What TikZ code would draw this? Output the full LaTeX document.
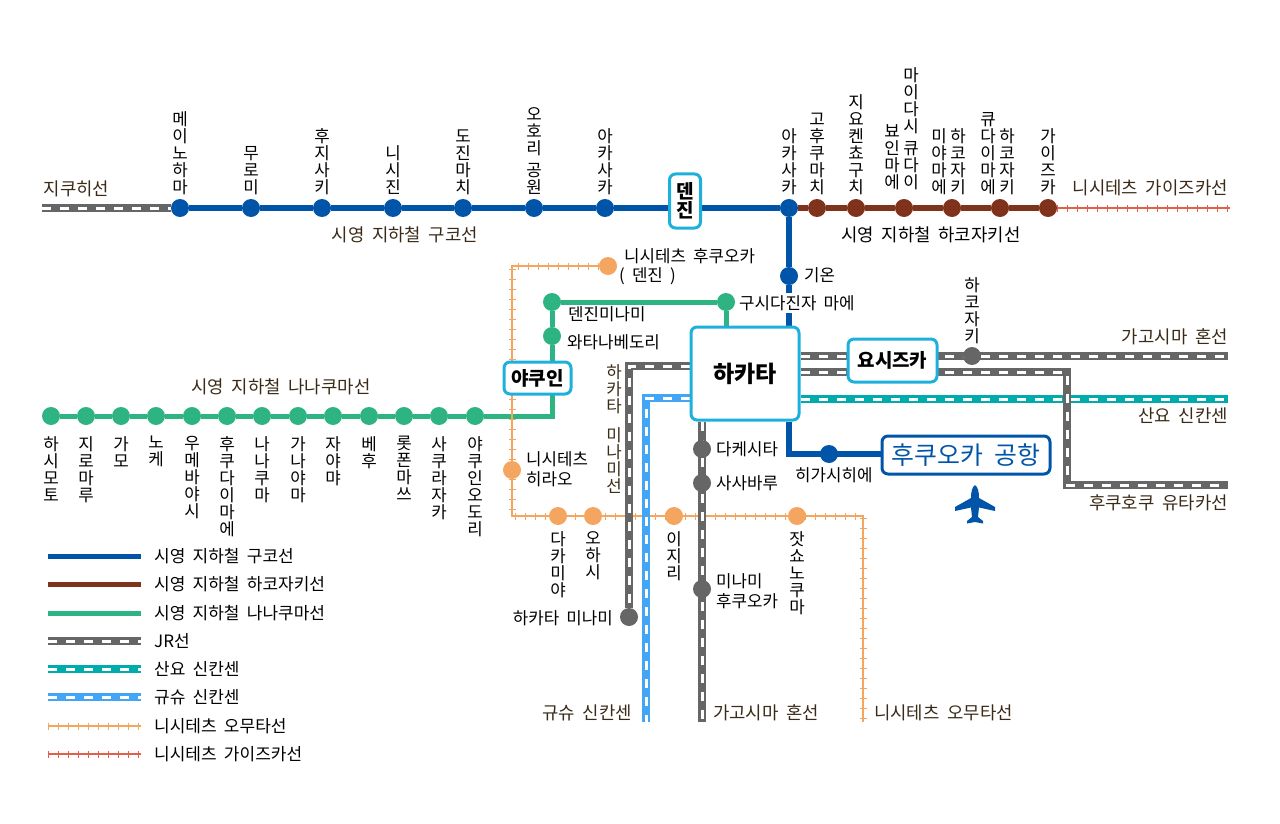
\documentclass[tikz,border=0pt]{standalone}
\usepackage{fontspec}
\setmainfont[WordSpace=1.9]{Noto Sans CJK KR}
\usetikzlibrary{backgrounds}

\definecolor{kukoblue}{HTML}{0055A8}
\definecolor{hakobrown}{HTML}{7F331C}
\definecolor{nanagreen}{HTML}{2DB482}
\definecolor{jrgray}{HTML}{666666}
\definecolor{sanyoteal}{HTML}{00ABAB}
\definecolor{kyushublue}{HTML}{42A5F5}
\definecolor{omutaorange}{HTML}{F4A660}
\definecolor{kaizukared}{HTML}{E0604C}
\definecolor{hubcyan}{HTML}{1EB0DC}
\definecolor{labbrown}{HTML}{3A2A18}

\tikzset{
  stop/.style={circle,inner sep=0pt,minimum size=18pt},
  uplab/.style={anchor=south,align=center,inner sep=0pt,font=\fontsize{16.8}{17}\selectfont},
  downlab/.style={anchor=north,align=center,inner sep=0pt,font=\fontsize{16.8}{17}\selectfont},
  sidelab/.style={anchor=west,align=left,inner sep=0pt,font=\fontsize{16.8}{19.5}\selectfont},
  linelab/.style={inner sep=0pt,text=labbrown,font=\fontsize{17.8}{19}\selectfont},
  keylab/.style={anchor=west,inner sep=0pt,font=\fontsize{17}{19}\selectfont},
  hub/.style={draw=hubcyan,fill=white,line width=3pt,rounded corners=6pt,inner sep=0pt,align=center,font=\fontsize{19}{19}\selectfont\bfseries},
  kuko/.style={draw=kukoblue,line width=5.5pt},
  hako/.style={draw=hakobrown,line width=5.5pt},
  nana/.style={draw=nanagreen,line width=5pt},
  rail/.style={draw=#1,line width=7.5pt,postaction={draw=white,line width=3pt,dash pattern=on 9pt off 9pt}},
  tick/.style={draw=#1,line width=2pt,preaction={draw=#1,line width=7pt,dash pattern=on 1pt off 9pt}}
}

\begin{document}
\begin{tikzpicture}[x=1pt,y=-1pt]
  \useasboundingbox (0,0) rectangle (1280,824);

  \node[stop,fill=kukoblue] (meinohama) at (180,208) {};
  \node[stop,fill=kukoblue] (muromi) at (251,208) {};
  \node[stop,fill=kukoblue] (fujisaki) at (322,208) {};
  \node[stop,fill=kukoblue] (nishijin) at (393,208) {};
  \node[stop,fill=kukoblue] (tojinmachi) at (463,208) {};
  \node[stop,fill=kukoblue] (ohori) at (534,208) {};
  \node[stop,fill=kukoblue] (akasaka) at (605,208) {};
  \node[hub,minimum width=31pt,minimum height=54pt] (tenjin) at (685,201) {덴\\진};
  \node[stop,fill=kukoblue] (nakasu) at (789,208) {};
  \node[stop,fill=hakobrown] (gofuku) at (817,208) {};
  \node[stop,fill=hakobrown] (chiyo) at (856,208) {};
  \node[stop,fill=hakobrown] (maidashi) at (904,208) {};
  \node[stop,fill=hakobrown] (miyamae) at (952,208) {};
  \node[stop,fill=hakobrown] (kyudai) at (1000,208) {};
  \node[stop,fill=hakobrown] (kaizuka) at (1048,208) {};
  \coordinate (chikuhi-w) at (42,208);
  \coordinate (kaizuka-e) at (1230,208);

  \node[uplab] (meinohama-l) at (180,195) {메\\이\\노\\하\\마};
  \node[uplab] (muromi-l) at (251,195) {무\\로\\미};
  \node[uplab] (fujisaki-l) at (322,195) {후\\지\\사\\키};
  \node[uplab] (nishijin-l) at (393,195) {니\\시\\진};
  \node[uplab] (tojinmachi-l) at (463,195) {도\\진\\마\\치};
  \node[uplab] (ohori-l) at (534,195) {오\\호\\리\\[5pt]공\\원};
  \node[uplab] (akasaka-l) at (605,195) {아\\카\\사\\카};
  \node[uplab] (nakasu-l) at (789,195) {아\\카\\사\\카};
  \node[uplab] (gofuku-l) at (817,195) {고\\후\\쿠\\마\\치};
  \node[uplab] (chiyo-l) at (856,195) {지\\요\\켄\\쵸\\구\\치};
  \node[uplab] (byoin-l) at (892,190) {뵤\\인\\마\\에};
  \node[uplab] (maidashi-l) at (911,190) {마\\이\\다\\시\\[5pt]큐\\다\\이};
  \node[uplab] (miyamae-l) at (939,195) {미\\야\\마\\에};
  \node[uplab] (hako1-l) at (958,195) {하\\코\\자\\키};
  \node[uplab] (kyudai-l) at (988,195) {큐\\다\\이\\마\\에};
  \node[uplab] (hako2-l) at (1007,195) {하\\코\\자\\키};
  \node[uplab] (kaizuka-l) at (1048,195) {가\\이\\즈\\카};

  \node[linelab] (chikuhi-n) at (76.5,189) {지쿠히선};
  \node[linelab] (kuko-n) at (405,235) {시영 지하철 구코선};
  \node[linelab,text=black] (hako-n) at (931,235) {시영 지하철 하코자키선};
  \node[linelab,anchor=east] (kaizuka-n) at (1228,188) {니시테츠 가이즈카선};

  \node[stop,fill=kukoblue] (gion) at (789,276) {};
  \node[sidelab] (gion-l) at (804,275) {기온};
  \node[stop,fill=omutaorange] (fukuoka) at (608,266) {};
  \node[sidelab] (fukuoka-l) at (619,266.5) {\hspace{5pt}니시테츠 후쿠오카\\( 덴진 )};
  \node[stop,fill=nanagreen] (tenjinminami) at (552,302) {};
  \node[stop,fill=nanagreen] (kushida) at (726,302) {};
  \node[stop,fill=nanagreen] (watanabe) at (552,336) {};
  \node[sidelab] (tenjinminami-l) at (568,314) {덴진미나미};
  \node[sidelab] (watanabe-l) at (567,342) {와타나베도리};
  \node[sidelab,fill=white,inner ysep=2pt] (kushida-l) at (739,303) {구시다진자 마에};

  \node[hub,minimum width=108pt,minimum height=93pt,font=\fontsize{23}{24}\selectfont\bfseries] (hakata) at (745,373.5) {하카타};
  \node[hub,minimum width=67pt,minimum height=32pt] (yakuin) at (537.5,378) {야쿠인};
  \node[hub,minimum width=89pt,minimum height=43pt] (yoshizuka) at (892.5,360.5) {요시즈카};
  \node[hub,draw=kukoblue,text=kukoblue,minimum width=168pt,minimum height=38pt,font=\fontsize{24.9}{25}\selectfont] (airport) at (966,455) {후쿠오카 공항};

  \node[stop,fill=jrgray] (hakozaki) at (972,356) {};
  \node[uplab] (hakozaki-l) at (972,344) {하\\코\\자\\키};
  \node[linelab,anchor=east] (honsen-n) at (1228,337) {가고시마 혼선};
  \node[linelab,anchor=east] (sanyo-n) at (1228,416) {산요 신칸센};
  \node[linelab,anchor=east] (yutaka-n) at (1228,503) {후쿠호쿠 유타카선};
  \coordinate (honsen-e) at (1228,356);
  \coordinate (sanyo-e) at (1228,399);
  \coordinate (yutaka-a) at (1067,372);
  \coordinate (yutaka-b) at (1067,485);
  \coordinate (yutaka-e) at (1228,485);

  \node[stop,fill=kukoblue] (higashihie) at (829,454) {};
  \node[sidelab] (higashihie-l) at (795,475) {히가시히에};
  \coordinate (kuko-turn) at (789,454);

  \node[stop,fill=nanagreen] (hashimoto) at (51,416) {};
  \node[stop,fill=nanagreen] (jiromaru) at (86,416) {};
  \node[stop,fill=nanagreen] (kamo) at (121,416) {};
  \node[stop,fill=nanagreen] (noke) at (156,416) {};
  \node[stop,fill=nanagreen] (umebayashi) at (192,416) {};
  \node[stop,fill=nanagreen] (fukudai) at (227,416) {};
  \node[stop,fill=nanagreen] (nanakuma) at (262,416) {};
  \node[stop,fill=nanagreen] (kanayama) at (298,416) {};
  \node[stop,fill=nanagreen] (chayama) at (333,416) {};
  \node[stop,fill=nanagreen] (befu) at (369,416) {};
  \node[stop,fill=nanagreen] (ropponmatsu) at (404,416) {};
  \node[stop,fill=nanagreen] (sakurazaka) at (439,416) {};
  \node[stop,fill=nanagreen] (yakuinodori) at (475,416) {};
  \coordinate (nana-turn) at (552,416);

  \node[downlab] (hashimoto-l) at (51,436) {하\\시\\모\\토};
  \node[downlab] (jiromaru-l) at (86,436) {지\\로\\마\\루};
  \node[downlab] (kamo-l) at (121,436) {가\\모};
  \node[downlab] (noke-l) at (156,436) {노\\케};
  \node[downlab] (umebayashi-l) at (192,436) {우\\메\\바\\야\\시};
  \node[downlab] (fukudai-l) at (227,436) {후\\쿠\\다\\이\\마\\에};
  \node[downlab] (nanakuma-l) at (262,436) {나\\나\\쿠\\마};
  \node[downlab] (kanayama-l) at (298,436) {가\\나\\야\\마};
  \node[downlab] (chayama-l) at (333,436) {자\\야\\먀};
  \node[downlab] (befu-l) at (369,436) {베\\후};
  \node[downlab] (ropponmatsu-l) at (404,436) {롯\\폰\\마\\쓰};
  \node[downlab] (sakurazaka-l) at (439,436) {사\\쿠\\라\\자\\카};
  \node[downlab] (yakuinodori-l) at (475,436) {야\\쿠\\인\\오\\도\\리};
  \node[linelab] (nana-n) at (281,387) {시영 지하철 나나쿠마선};

  \node[stop,fill=omutaorange] (hirao) at (512,470) {};
  \node[sidelab] (hirao-l) at (526,469) {니시테츠\\히라오};
  \node[stop,fill=omutaorange] (takamiya) at (558,516) {};
  \node[stop,fill=omutaorange] (ohashi) at (593,516) {};
  \node[stop,fill=omutaorange] (ijiri) at (674,516) {};
  \node[stop,fill=omutaorange] (zasshonokuma) at (797,516) {};
  \node[downlab] (takamiya-l) at (558,531) {다\\카\\미\\야};
  \node[downlab] (ohashi-l) at (593,531) {오\\하\\시};
  \node[downlab] (ijiri-l) at (674,531) {이\\지\\리};
  \node[downlab] (zasshonokuma-l) at (797,531) {잣\\쇼\\노\\쿠\\마};
  \coordinate (omuta-a) at (512,266);
  \coordinate (omuta-b) at (512,516);
  \coordinate (omuta-c) at (863,516);
  \coordinate (omuta-d) at (863,722);

  \node[stop,fill=jrgray] (takeshita) at (702,449) {};
  \node[stop,fill=jrgray] (sasabaru) at (702,483) {};
  \node[stop,fill=jrgray] (minamifuk) at (702,589) {};
  \node[stop,fill=jrgray] (hakataminami) at (629,617) {};
  \node[sidelab] (takeshita-l) at (716,449) {다케시타};
  \node[sidelab] (sasabaru-l) at (716,483) {사사바루};
  \node[sidelab] (minamifuk-l) at (716,591) {미나미\\후쿠오카};
  \node[sidelab,anchor=east] (hakataminami-l) at (613,618) {하카타 미나미};
  \node[linelab,align=center,font=\fontsize{16.8}{17}\selectfont] (minamisen-n) at (614,429.5) {하\\카\\타\\[12pt]미\\나\\미\\선};
  \coordinate (minamisen-t) at (629,366);
  \coordinate (kyushu-t) at (646,398);
  \coordinate (kyushu-b) at (646,722);
  \coordinate (honsen-b) at (702,722);
  \node[linelab,anchor=east] (kyushu-n) at (632,713) {규슈 신칸센};
  \node[linelab,anchor=west] (honsen2-n) at (713,713) {가고시마 혼선};
  \node[linelab,anchor=west] (omuta-n) at (874,713) {니시테츠 오무타선};

  \fill[kukoblue] (975,485) .. controls (978,487) and (979,492) .. (979,498) -- (995,507) -- (995,511) -- (979,507.5) -- (978,517) -- (983,521) -- (983,523.5) -- (975,522) -- (967,523.5) -- (967,521) -- (972,517) -- (971,507.5) -- (955,511) -- (955,507) -- (971,498) .. controls (971,492) and (972,487) .. (975,485) -- cycle;

  \coordinate (key1-a) at (48,556);
  \coordinate (key1-b) at (141,556);
  \coordinate (key2-a) at (48,584);
  \coordinate (key2-b) at (141,584);
  \coordinate (key3-a) at (48,613);
  \coordinate (key3-b) at (141,613);
  \coordinate (key4-a) at (48,641);
  \coordinate (key4-b) at (141,641);
  \coordinate (key5-a) at (48,669);
  \coordinate (key5-b) at (141,669);
  \coordinate (key6-a) at (48,697);
  \coordinate (key6-b) at (141,697);
  \coordinate (key7-a) at (48,726);
  \coordinate (key7-b) at (141,726);
  \coordinate (key8-a) at (48,754);
  \coordinate (key8-b) at (141,754);
  \node[keylab] (key1-l) at (154,556) {시영 지하철 구코선};
  \node[keylab] (key2-l) at (154,584) {시영 지하철 하코자키선};
  \node[keylab] (key3-l) at (154,613) {시영 지하철 나나쿠마선};
  \node[keylab] (key4-l) at (154,641) {JR선};
  \node[keylab] (key5-l) at (154,669) {산요 신칸센};
  \node[keylab] (key6-l) at (154,697) {규슈 신칸센};
  \node[keylab] (key7-l) at (154,726) {니시테츠 오무타선};
  \node[keylab] (key8-l) at (154,754) {니시테츠 가이즈카선};

  \begin{scope}[on background layer]
    \draw[nana] (hashimoto) -- (jiromaru) -- (kamo) -- (noke) -- (umebayashi) -- (fukudai) -- (nanakuma) -- (kanayama) -- (chayama) -- (befu) -- (ropponmatsu) -- (sakurazaka) -- (yakuinodori) -- (nana-turn) -- (watanabe) -- (tenjinminami) -- (kushida) -- (hakata.north -| kushida);

    \draw[tick=omutaorange] (fukuoka) -- (omuta-a) -- (omuta-b) -- (omuta-c) -- (omuta-d);
    \draw[tick=kaizukared] (kaizuka) -- (kaizuka-e);

    \draw[rail=kyushublue] (hakata.west |- kyushu-t) -- (kyushu-t) -- (kyushu-b);
    \draw[rail=sanyoteal] (hakata.east |- sanyo-e) -- (sanyo-e);
    \draw[rail=jrgray] (chikuhi-w) -- (meinohama);
    \draw[rail=jrgray] (hakata.east |- honsen-e) -- (honsen-e);
    \draw[rail=jrgray] (hakata.east |- yutaka-a) -- (yutaka-a) -- (yutaka-b) -- (yutaka-e);
    \draw[rail=jrgray] (hakata.west |- minamisen-t) -- (minamisen-t) -- (hakataminami);
    \draw[rail=jrgray] (hakata.south -| honsen-b) -- (honsen-b);

    \draw[kuko] (meinohama) -- (muromi) -- (fujisaki) -- (nishijin) -- (tojinmachi) -- (ohori) -- (akasaka) -- (nakasu);
    \draw[kuko] (nakasu) -- (gion) -- (hakata.north -| gion);
    \draw[kuko] (hakata.south -| kuko-turn) -- (kuko-turn) -- (airport.west |- higashihie);
    \draw[hako] (nakasu) -- (gofuku) -- (chiyo) -- (maidashi) -- (miyamae) -- (kyudai) -- (kaizuka);

    \draw[kuko,line width=5pt] (key1-a) -- (key1-b);
    \draw[hako,line width=5pt] (key2-a) -- (key2-b);
    \draw[nana] (key3-a) -- (key3-b);
    \draw[rail=jrgray] (key4-a) -- (key4-b);
    \draw[rail=sanyoteal] (key5-a) -- (key5-b);
    \draw[rail=kyushublue] (key6-a) -- (key6-b);
    \draw[tick=omutaorange] (key7-a) -- (key7-b);
    \draw[tick=kaizukared] (key8-a) -- (key8-b);
  \end{scope}
\end{tikzpicture}
\end{document}
